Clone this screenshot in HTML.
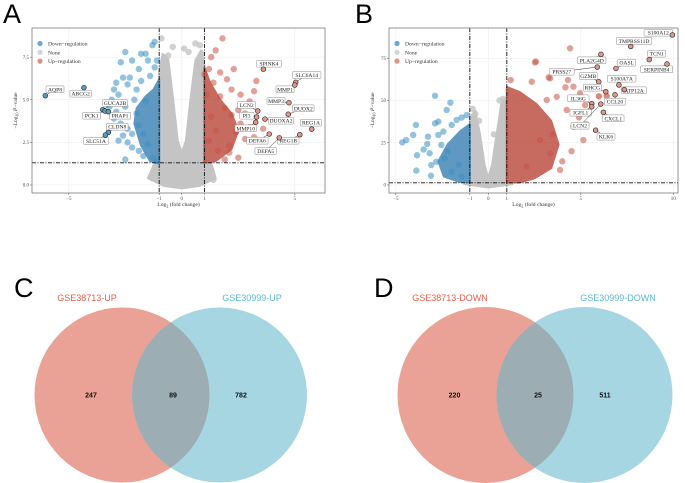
<!DOCTYPE html>
<html><head><meta charset="utf-8"><style>
html,body{margin:0;padding:0;background:#fff;}
svg{display:block;}
.tick{font-family:"Liberation Serif",serif;font-size:5px;fill:#4d4d4d;}
.lab{font-family:"Liberation Serif",serif;font-size:5.6px;fill:#222;}
.leg{font-family:"Liberation Serif",serif;font-size:5.6px;fill:#333;}
.letter{font-family:"Liberation Sans",sans-serif;font-size:27px;fill:#000;}
.vlab{font-family:"Liberation Sans",sans-serif;font-size:9px;}
.vnum{font-family:"Liberation Sans",sans-serif;font-size:7px;font-weight:bold;fill:#111;}
</style></head><body>
<svg id="fig" width="685" height="483" viewBox="0 0 685 483" xmlns="http://www.w3.org/2000/svg">
<text class="letter" x="3" y="23">A</text>
<text class="letter" x="355" y="23">B</text>
<text class="letter" x="14" y="297">C</text>
<text class="letter" x="374" y="297">D</text>
<g id="volA"></g>
<g id="volB"></g>
<g id="vennC"></g>
<g id="vennD"></g>
</svg>
<script>
// ---------- Panel A data ----------
const aXTicks = [-5, -1, 0, 1, 5];
const aYTicks = [0, 2.5, 5, 7.5];
const aYTickLabels = ["0.0", "2.5", "5.0", "7.5"];
const aGrayCloud = [[-1.5,0.4],[-1.2,1.3],[-1,1.3],[-1,6.6],[-0.85,7.7],[-0.6,7.4],[-0.38,5],[-0.18,2.6],[0,1.9],[0.18,2.6],[0.38,5],[0.6,7.3],[0.85,7.9],[1,7],[1,1.3],[1.3,1.3],[1.5,0.4],[0.8,-0.05],[0,-0.2],[-0.8,-0.05]];
const aBlueCloud = [[-1,1.3],[-1,6.2],[-1.25,5.6],[-1.6,5.2],[-2.0,4.5],[-2.1,3.6],[-1.8,2.3],[-1.4,1.4]];
const aRedCloud = [[1,1.3],[1,6.9],[1.25,6],[1.7,5],[2.2,4.2],[2.5,3.2],[2.2,2.1],[1.5,1.4]];
const aDownPts = [[-1.2,8.4],[-1.3,8.2],[-1.6,7.7],[-1.8,7.7],[-2.5,7.8],[-2.7,7.2],[-2.2,7.3],[-1.5,7.3],[-1.9,6.8],[-2.3,6.3],[-2.6,6.3],[-2.9,6.0],[-2.4,5.9],[-3.0,5.6],[-2.8,5.3],[-3.1,5.0],[-2.1,5.0],[-2.5,4.6],[-2.9,4.3],[-3.0,3.9],[-2.7,3.6],[-2.4,3.3],[-2.2,3.0],[-2.6,2.9],[-2.4,2.5],[-2.2,2.2],[-1.9,2.0],[-2.5,1.5],[-1.7,1.7],[-1.5,2.4],[-1.9,3.5],[-2.0,4.2],[-1.6,4.9],[-1.4,6.4],[-1.2,6.9],[-1.1,7.3],[-1.3,1.6],[-1.1,1.4],[-2.8,2.6],[-3.2,4.6],[-1.8,6.1],[-2.0,5.6],[-1.7,3.0]];
const aUpPts = [[1.8,8.6],[1.5,7.9],[1.3,7.5],[1.2,6.8],[1.7,6.6],[2.0,6.2],[1.4,6.0],[2.2,5.6],[2.6,5.3],[3.2,5.5],[3.0,4.9],[2.5,4.4],[2.2,4.1],[2.8,4.2],[1.9,4.5],[2.6,3.6],[3.0,3.4],[2.4,3.1],[2.8,2.7],[3.2,2.8],[2.1,2.3],[1.6,2.0],[2.5,1.6],[1.9,1.5],[3.6,3.3],[3.3,6.1],[1.1,5.3],[1.3,4.0],[1.5,3.2],[1.2,2.6],[1.7,5.2],[2.3,6.8],[1.0,6.5],[3.5,2.6],[2.1,1.9]];
const aNonePts = [[-0.6,7.6],[-0.4,8.1],[0.1,8.0],[0.3,7.8],[0.9,7.7],[0.6,8.3],[-1.1,0.7],[-1.3,0.4],[1.2,0.6],[1.4,0.3],[-0.9,8.6],[0.8,8.2]];
const aGenes = ["AQP8","ABCG2","GUCA2B","PCK1","PRAP1","CLDN8","SLC51A","SPINK4","SLC6A14","MMP1","MMP3","DUOX2","LCN2","PI3","DUOXA2","MMP10","REG1A","DEFA6","REG1B","DEFA5"];
const aGeneX = [-6.04,-4.33,-3.5,-3.4,-3.25,-3.25,-3.38,3.61,5.04,5.0,4.74,4.71,3.36,3.31,3.68,3.27,5.75,3.87,5.22,4.31];
const aGeneY = [5.24,5.71,4.42,4.34,4.3,3.09,2.93,6.79,6.02,5.86,4.83,4.15,4.34,3.99,3.87,3.68,3.28,2.99,2.95,2.77];
const aGeneDir = ["down","down","down","down","down","down","down","up","up","up","up","up","up","up","up","up","up","up","up","up"];
// label box layout (pixel centres)
const aLabelLayout = [[55,89.3],[80.7,93.7],[115,103],[91.7,115.7],[120,115.7],[117.3,126.7],[96,141],[269,63.7],[306.7,75],[285,89.3],[276,101],[303.3,108.3],[246.7,105],[246.7,115.7],[281,120.7],[245.7,128.3],[311,122.7],[257.3,140.7],[288.3,140.7],[265.7,151]];

// ---------- Panel B data ----------
const bXTicks = [-5, -1, 0, 1, 5, 10];
const bYTicks = [0, 25, 50, 75];
const bYTickLabels = ["0", "25", "50", "75"];
const bGrayCloud = [[-1.3,0.5],[-1,1.3],[-1,40],[-0.7,44],[-0.45,30],[-0.2,12],[0,4],[0.2,12],[0.45,30],[0.7,48],[1,52],[1,1.3],[1.3,0.5],[0,-1.5]];
const bBlueCloud = [[-1,1.5],[-1,36],[-1.5,32],[-2.2,24],[-2.7,14],[-2.4,5],[-1.6,2]];
const bRedCloud = [[1,1.5],[1,58],[1.7,55],[2.6,48],[3.4,38],[3.8,24],[3.4,10],[2.5,4],[1.7,1.5]];
const bDownPts = [[-2.88,52.8],[-2.05,48.7],[-2.25,44.4],[-3.91,35.5],[-4.65,25.2],[-4.44,26.6],[-4.06,29.6],[-3.85,17.6],[-3.89,8.5],[-3.26,28.6],[-3.3,24.3],[-2.7,29.6],[-2.43,31.6],[-2.88,36.5],[-2.7,37.5],[-1.98,35.5],[-1.71,38.5],[-1.44,39.9],[-1.17,41.4],[-3.17,18.8],[-3.08,11.8],[-2.54,23.7],[-2.36,15.8],[-2.81,13.8],[-1.98,7.9],[-1.44,4.9],[-3.5,21],[-3.1,5.5],[-2.2,20],[-1.6,12]];
const bUpPts = [[4.42,80.9],[2.52,72.6],[3.34,63.1],[2.58,73],[4.31,62.1],[4.17,57.8],[3.26,63.7],[2.35,61.1],[1.21,62.1],[4.96,54.3],[5.23,47.3],[4.6,34.5],[3.34,18.7],[3.88,8.9],[5.14,26.6],[2.79,26.6],[2.07,10.9],[4.24,44.4],[3.7,52.2],[3.16,50.3],[4.6,58.2],[4.9,40],[4.5,20],[3.5,30],[5.3,36],[4.0,14]];
const bNonePts = [[0.6,50],[0.8,51],[-0.7,42],[0.3,30],[-0.5,38],[-0.85,45]];
const bGenes = ["S100A12","TMPRSS11D","TCN1","SERPINB4","PLA2G4D","PRSS27","OASL","GZMB","S100A7A","ATP12A","RHCG","CCL20","IL36G","IGFL1","CXCL1","LCN2","KLK6"];
const bGeneX = [9.95,7.7,8.7,9.66,6.09,5.89,6.9,5.97,7.06,7.35,6.35,6.85,5.59,5.59,6.22,6.08,5.8];
const bGeneY = [88.8,82,74.2,71.6,77.3,69.8,69,61.1,59.2,56.4,55.2,53.4,48.1,46.3,43,47.9,32.4];
const bLabelLayout = [[658.3,32.7],[634,41],[656.7,53.7],[656.7,69.3],[591.7,60.3],[561.7,71.7],[626.7,62.7],[588.3,76],[621.7,78.7],[634,90.3],[592.3,87.7],[615,101.7],[578.3,98.3],[580.7,112.7],[613.3,118.3],[580,125.7],[606,136.7]];
const bExtraPts = [[6.4,52.7],[5.98,52.5]];

// ---------- Venn data ----------
const cSets = ["GSE38713-UP", "GSE30999-UP"];
const cCounts = [247, 89, 782];
const dSets = ["GSE38713-DOWN", "GSE30999-DOWN"];
const dCounts = [220, 25, 511];

const NS = "http://www.w3.org/2000/svg";
function mk(tag, attrs, parent) {
  const e = document.createElementNS(NS, tag);
  for (const k in attrs) e.setAttribute(k, attrs[k]);
  if (parent) parent.appendChild(e);
  return e;
}

function volcano(g, cfg) {
  const xs = v => cfg.x0 + cfg.kx * v;
  const ys = v => cfg.y0 - cfg.ky * v;
  const bg = mk("rect", {x: cfg.L, y: cfg.T, width: cfg.R - cfg.L, height: cfg.B - cfg.T, fill: "#fff"}, g);
  
  
  cfg.xt.forEach(t => {
    const l = mk("line", {x1: xs(t), x2: xs(t), y1: cfg.T, y2: cfg.B, stroke: "#ececec", "stroke-width": 0.6}, g);
    
    
  });
  cfg.yt.forEach(t => {
    const l = mk("line", {x1: cfg.L, x2: cfg.R, y1: ys(t), y2: ys(t), stroke: "#ececec", "stroke-width": 0.6}, g);
    
    
  });
  const poly = (pts, fill, op, name) => {
    const p = mk("polygon", {points: pts.map(q => xs(q[0]) + "," + ys(q[1])).join(" "), fill: fill, opacity: op, "stroke-linejoin": "round", stroke: fill, "stroke-width": 2}, g);
    
    
  };
  const dots = (pts, fill, op, name) => {
    pts.forEach(q => {
      const c = mk("circle", {cx: xs(q[0]), cy: ys(q[1]), r: 3.2, fill: fill, opacity: op}, g);
      
      
    });
  };
  poly(cfg.gray, "#c4c4c4", 1, "none-point-cloud");
  poly(cfg.blue, "#2a78ad", 0.75, "down-point-cloud");
  poly(cfg.red, "#b53a2c", 0.75, "up-point-cloud");
  dots(cfg.none, "#c4c4c4", 0.8, "none-point");
  dots(cfg.down, "#3b8fc2", 0.55, "down-point");
  dots(cfg.up, "#c55444", 0.55, "up-point");
  if (cfg.extra) dots(cfg.extra, "#d98a7c", 1, "up-point");
  [-1, 1].forEach(v => {
    const l = mk("line", {x1: xs(v), x2: xs(v), y1: cfg.T, y2: cfg.B, stroke: "#111", "stroke-width": 0.9, "stroke-dasharray": "4,1.5,1,1.5"}, g);
    
    
  });
  const th = mk("line", {x1: cfg.L, x2: cfg.R, y1: ys(cfg.pth), y2: ys(cfg.pth), stroke: "#111", "stroke-width": 0.9, "stroke-dasharray": "4,1.5,1,1.5"}, g);
  
  
  cfg.genes.forEach((name, i) => {
    const px = xs(cfg.gx[i]), py = ys(cfg.gy[i]);
    const pos = cfg.layout[i];
    const t = mk("text", {class: "lab", x: pos[0], y: pos[1] + 2, "text-anchor": "middle"}, null);
    t.textContent = name;
    const gg = mk("g", {}, g);
    
    
    const w = name.length * 3.5 + 4;
    const ln = mk("line", {x1: pos[0], y1: pos[1], x2: px, y2: py, stroke: "#333", "stroke-width": 0.5}, gg);
    
    
    const r = mk("rect", {x: pos[0] - w / 2, y: pos[1] - 3.4, width: w, height: 6.8, fill: "#fff", stroke: "#888", "stroke-width": 0.5, rx: 0.8}, gg);
    
    
    gg.appendChild(t);
    const dc = mk("circle", {cx: px, cy: py, r: 2.4, fill: cfg.dir ? (cfg.dir[i] === "down" ? "#5a9cc8" : "#e0978a") : "#e0978a", stroke: "#222", "stroke-width": 0.6}, g);
    
    
  });
  const fr = mk("rect", {x: cfg.L, y: cfg.T, width: cfg.R - cfg.L, height: cfg.B - cfg.T, fill: "none", stroke: "#7a7a7a", "stroke-width": 0.8}, g);
  
  
  cfg.xt.forEach(t => {
    const tl = mk("line", {x1: xs(t), x2: xs(t), y1: cfg.B, y2: cfg.B + 2, stroke: "#555", "stroke-width": 0.5}, g);
    
    
    const tx = mk("text", {class: "tick", x: xs(t), y: cfg.B + 7, "text-anchor": "middle"}, g);
    tx.textContent = String(t).replace("-", "−");
    
    
  });
  cfg.yt.forEach((t, i) => {
    const tl = mk("line", {x1: cfg.L - 2, x2: cfg.L, y1: ys(t), y2: ys(t), stroke: "#555", "stroke-width": 0.5}, g);
    
    
    const tx = mk("text", {class: "tick", x: cfg.L - 3, y: ys(t) + 1.7, "text-anchor": "end"}, g);
    tx.textContent = cfg.ytl[i];
    
    
  });
  const xt = mk("text", {class: "leg", x: (cfg.L + cfg.R) / 2, y: cfg.B + 13, "text-anchor": "middle"}, g);
  xt.innerHTML = 'Log<tspan font-size="4" dy="1.5">2</tspan><tspan dy="-1.5"> (fold change)</tspan>';
  
  
  const yx = cfg.L - 15, yy = (cfg.T + cfg.B) / 2;
  const yt = mk("text", {class: "leg", x: yx, y: yy, "text-anchor": "middle", transform: "rotate(-90 " + yx + " " + yy + ")"}, g);
  yt.innerHTML = '−Log<tspan font-size="4" dy="1.5">10</tspan><tspan dy="-1.5"> </tspan><tspan font-style="italic">P</tspan>−value';
  
  
  [["Down−regulation", "#6aa9d2"], ["None", "#d4d4d4"], ["Up−regulation", "#dd9488"]].forEach((e, i) => {
    const lg = mk("g", {}, g);
    
    
    mk("circle", {cx: cfg.L + 8, cy: cfg.T + 15.5 + i * 8.8, r: 2.6, fill: e[1]}, lg);
    const tx = mk("text", {class: "leg", x: cfg.L + 16, y: cfg.T + 17.5 + i * 8.8}, lg);
    tx.textContent = e[0];
  });
}

volcano(document.getElementById("volA"), {L: 32, R: 325, T: 28, B: 193, x0: 181.8, kx: 22.6, y0: 185, ky: 17.05,
  xt: aXTicks, yt: aYTicks, ytl: aYTickLabels, gray: aGrayCloud, blue: aBlueCloud, red: aRedCloud,
  down: aDownPts, up: aUpPts, none: aNonePts, pth: 1.3, genes: aGenes, gx: aGeneX, gy: aGeneY, dir: aGeneDir, layout: aLabelLayout});
volcano(document.getElementById("volB"), {L: 389, R: 678, T: 28, B: 193, x0: 488.3, kx: 18.5, y0: 185, ky: 1.69,
  xt: bXTicks, yt: bYTicks, ytl: bYTickLabels, gray: bGrayCloud, blue: bBlueCloud, red: bRedCloud,
  down: bDownPts, up: bUpPts, none: bNonePts, extra: bExtraPts, pth: 1.3, genes: bGenes, gx: bGeneX, gy: bGeneY, layout: bLabelLayout});

function venn(g, id, cfg) {
  const defs = mk("defs", {}, g);
  const cp = mk("clipPath", {id: id + "clip"}, defs);
  mk("circle", {cx: cfg.c1, cy: cfg.cy, r: cfg.r}, cp);
  const a = mk("circle", {cx: cfg.c1, cy: cfg.cy, r: cfg.r, fill: "#e9a295"}, g);
  
  
  const b = mk("circle", {cx: cfg.c2, cy: cfg.cy, r: cfg.r, fill: "#a6d6e2"}, g);
  
  
  const o = mk("circle", {cx: cfg.c2, cy: cfg.cy, r: cfg.r, fill: "#9cadb3", "clip-path": "url(#" + id + "clip)"}, g);
  
  
  const l1 = mk("text", {class: "vlab", x: cfg.l1, y: 301, fill: "#e4604e", "text-anchor": "middle"}, g);
  l1.textContent = cfg.sets[0];
  
  
  const l2 = mk("text", {class: "vlab", x: cfg.l2, y: 301, fill: "#5bb8cf", "text-anchor": "middle"}, g);
  l2.textContent = cfg.sets[1];
  
  
  const names = ["left-only-count", "overlap-count", "right-only-count"];
  cfg.counts.forEach((n, i) => {
    const t = mk("text", {class: "vnum", x: cfg.nx[i], y: cfg.cy + 2.5, "text-anchor": "middle"}, g);
    t.textContent = n;
    
    
  });
}
venn(document.getElementById("vennC"), "c", {c1: 122, c2: 219.5, cy: 395, r: 87.5, sets: cSets, counts: cCounts, l1: 87, l2: 252, nx: [91, 173, 241]});
venn(document.getElementById("vennD"), "d", {c1: 485.5, c2: 584.5, cy: 395, r: 88, sets: dSets, counts: dCounts, l1: 450, l2: 618, nx: [454.5, 538, 605]});
</script>
</body></html>
